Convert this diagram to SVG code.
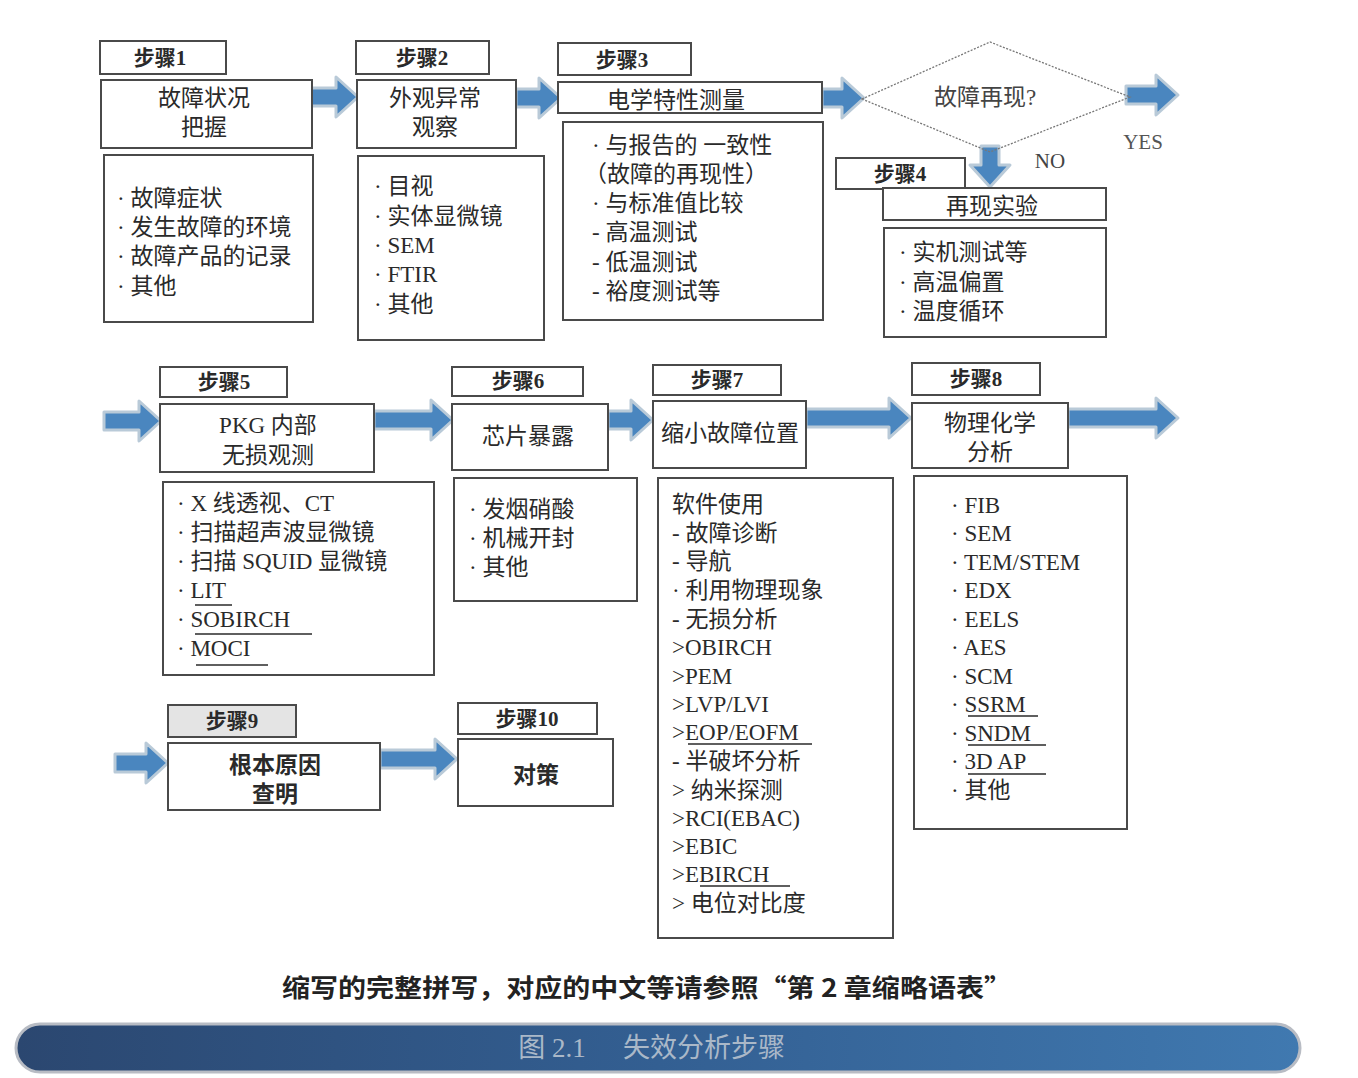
<svg xmlns="http://www.w3.org/2000/svg" width="1358" height="1078" viewBox="0 0 1358 1078">
<style>
.bx{fill:#fff;stroke:#4a4a4a;stroke-width:2}
.lb{fill:#fff;stroke:#4a4a4a;stroke-width:2}
.t{font-family:"Liberation Serif","Noto Sans CJK SC",serif;font-size:23px;fill:#2a2a2a;dominant-baseline:central}
.s{font-family:"Liberation Serif","Noto Sans CJK SC",serif;font-size:21px;fill:#2a2a2a;dominant-baseline:central;text-anchor:middle;font-weight:bold}
.c{text-anchor:middle}
.arr{fill:#4a86bf;stroke:#b9cad8;stroke-width:3;stroke-linejoin:round}
.ul{stroke:#2a2a2a;stroke-width:1.6}
.bt{font-family:"Liberation Serif","Noto Sans CJK SC",serif;font-size:27px;fill:#aab8c8;dominant-baseline:central;text-anchor:middle}
</style>
<defs>
<linearGradient id="bn" x1="0" y1="0" x2="1" y2="0">
<stop offset="0" stop-color="#2b4770"/>
<stop offset="0.5" stop-color="#335f92"/>
<stop offset="1" stop-color="#4079b0"/>
</linearGradient>
</defs>
<rect width="1358" height="1078" fill="#ffffff"/>

<g id="connectors">
<path class="arr" d="M310 88H336V77L358 97L336 117V106H310Z"/>
<path class="arr" d="M516 89H539V78L561 98L539 118V107H516Z"/>
<path class="arr" d="M822 89H842V78L864 98L842 118V107H822Z"/>
<path class="arr" d="M1126 86H1156V75L1178 95L1156 115V104H1126Z"/>
<path class="arr" d="M981 146V165H970L990 187L1010 165H999V146Z"/>
<path class="arr" d="M104 412H139V401L161 421L139 441V430H104Z"/>
<path class="arr" d="M374 411H431V400L453 420L431 440V429H374Z"/>
<path class="arr" d="M608 411H631V400L653 420L631 440V429H608Z"/>
<path class="arr" d="M806 409H889V398L911 418L889 438V427H806Z"/>
<path class="arr" d="M1068 409H1156V398L1178 418L1156 438V427H1068Z"/>
<path class="arr" d="M115 754H146V743L168 763L146 783V772H115Z"/>
<path class="arr" d="M380 750H435V739L457 759L435 779V768H380Z"/>
<text class="t" x="1143" y="142" style="font-size:21px;fill:#555" text-anchor="middle">YES</text>
<text class="t" x="1050" y="161" style="font-size:21px;fill:#444" text-anchor="middle">NO</text>
</g>

<g id="step1">
<rect class="lb" x="100" y="41" width="126" height="33"/>
<text class="s" x="160" y="58">步骤1</text>
<rect class="bx" x="101" y="80" width="211" height="68"/>
<text class="t c" x="204" y="98">故障状况</text>
<text class="t c" x="204" y="127">把握</text>
<rect class="bx" x="104" y="155" width="209" height="167"/>
<text class="t" x="117" y="198">· 故障症状</text>
<text class="t" x="117" y="227">· 发生故障的环境</text>
<text class="t" x="117" y="256">· 故障产品的记录</text>
<text class="t" x="117" y="286">· 其他</text>
</g>

<g id="step2">
<rect class="lb" x="356" y="41" width="133" height="33"/>
<text class="s" x="422" y="58">步骤2</text>
<rect class="bx" x="357" y="80" width="159" height="68"/>
<text class="t c" x="435" y="98">外观异常</text>
<text class="t c" x="435" y="127">观察</text>
<rect class="bx" x="358" y="156" width="186" height="184"/>
<text class="t" x="374" y="186">· 目视</text>
<text class="t" x="374" y="216">· 实体显微镜</text>
<text class="t" x="374" y="245">· SEM</text>
<text class="t" x="374" y="274">· FTIR</text>
<text class="t" x="374" y="304">· 其他</text>
</g>

<g id="step3">
<rect class="lb" x="558" y="43" width="133" height="32"/>
<text class="s" x="622" y="60">步骤3</text>
<rect class="bx" x="558" y="82" width="264" height="31"/>
<text class="t c" x="676" y="100">电学特性测量</text>
<rect class="bx" x="563" y="122" width="260" height="198"/>
<text class="t" x="592" y="145">· 与报告的 一致性</text>
<text class="t" x="584" y="174">（故障的再现性）</text>
<text class="t" x="592" y="203">· 与标准值比较</text>
<text class="t" x="592" y="232">- 高温测试</text>
<text class="t" x="592" y="262">- 低温测试</text>
<text class="t" x="592" y="291">- 裕度测试等</text>
</g>

<g id="decision">
<path d="M862 99L990 42L1130 97L990 152Z" fill="none" stroke="#777" stroke-width="1.3" stroke-dasharray="2 1.5"/>
<text class="t c" x="985" y="97" style="fill:#444">故障再现?</text>
</g>

<g id="step4">
<rect class="lb" x="836" y="158" width="129" height="31"/>
<text class="s" x="900" y="174">步骤4</text>
<rect class="bx" x="883" y="188" width="223" height="32"/>
<text class="t c" x="992" y="206">再现实验</text>
<rect class="bx" x="884" y="228" width="222" height="109"/>
<text class="t" x="899" y="252">· 实机测试等</text>
<text class="t" x="899" y="282">· 高温偏置</text>
<text class="t" x="899" y="311">· 温度循环</text>
</g>

<g id="step5">
<rect class="lb" x="160" y="367" width="127" height="30"/>
<text class="s" x="224" y="382">步骤5</text>
<rect class="bx" x="160" y="404" width="214" height="68"/>
<text class="t c" x="268" y="425">PKG 内部</text>
<text class="t c" x="268" y="455">无损观测</text>
<rect class="bx" x="163" y="482" width="271" height="193"/>
<text class="t" x="177" y="503">· X 线透视、CT</text>
<text class="t" x="177" y="532">· 扫描超声波显微镜</text>
<text class="t" x="177" y="561">· 扫描 SQUID 显微镜</text>
<text class="t" x="177" y="590">· LIT</text>
<text class="t" x="177" y="619">· SOBIRCH</text>
<text class="t" x="177" y="648">· MOCI</text>
<line class="ul" x1="195" y1="605" x2="232" y2="605"/>
<line class="ul" x1="195" y1="634" x2="312" y2="634"/>
<line class="ul" x1="196" y1="665" x2="268" y2="665"/>
</g>

<g id="step6">
<rect class="lb" x="452" y="367" width="131" height="29"/>
<text class="s" x="518" y="381">步骤6</text>
<rect class="bx" x="452" y="404" width="156" height="66"/>
<text class="t c" x="528" y="436">芯片暴露</text>
<rect class="bx" x="454" y="478" width="183" height="123"/>
<text class="t" x="469" y="509">· 发烟硝酸</text>
<text class="t" x="469" y="538">· 机械开封</text>
<text class="t" x="469" y="567">· 其他</text>
</g>

<g id="step7">
<rect class="lb" x="653" y="365" width="128" height="30"/>
<text class="s" x="717" y="380">步骤7</text>
<rect class="bx" x="653" y="401" width="153" height="67"/>
<text class="t c" x="730" y="433">缩小故障位置</text>
<rect class="bx" x="658" y="478" width="235" height="460"/>
<text class="t" x="672" y="504">软件使用</text>
<text class="t" x="672" y="533">- 故障诊断</text>
<text class="t" x="672" y="561">- 导航</text>
<text class="t" x="672" y="590">· 利用物理现象</text>
<text class="t" x="672" y="619">- 无损分析</text>
<text class="t" x="672" y="647">&gt;OBIRCH</text>
<text class="t" x="672" y="676">&gt;PEM</text>
<text class="t" x="672" y="704">&gt;LVP/LVI</text>
<text class="t" x="672" y="732">&gt;EOP/EOFM</text>
<text class="t" x="672" y="761">- 半破坏分析</text>
<text class="t" x="672" y="790">&gt; 纳米探测</text>
<text class="t" x="672" y="818">&gt;RCI(EBAC)</text>
<text class="t" x="672" y="846">&gt;EBIC</text>
<text class="t" x="672" y="874">&gt;EBIRCH</text>
<text class="t" x="672" y="903">&gt; 电位对比度</text>
<line class="ul" x1="688" y1="744" x2="812" y2="744"/>
<line class="ul" x1="700" y1="886" x2="790" y2="886"/>
</g>

<g id="step8">
<rect class="lb" x="912" y="363" width="128" height="32"/>
<text class="s" x="976" y="379">步骤8</text>
<rect class="bx" x="912" y="403" width="156" height="65"/>
<text class="t c" x="990" y="423">物理化学</text>
<text class="t c" x="990" y="452">分析</text>
<rect class="bx" x="914" y="476" width="213" height="353"/>
<text class="t" x="951" y="505">· FIB</text>
<text class="t" x="951" y="533">· SEM</text>
<text class="t" x="951" y="562">· TEM/STEM</text>
<text class="t" x="951" y="590">· EDX</text>
<text class="t" x="951" y="619">· EELS</text>
<text class="t" x="951" y="647">· AES</text>
<text class="t" x="951" y="676">· SCM</text>
<text class="t" x="951" y="704">· SSRM</text>
<text class="t" x="951" y="733">· SNDM</text>
<text class="t" x="951" y="761">· 3D AP</text>
<text class="t" x="951" y="790">· 其他</text>
<line class="ul" x1="968" y1="716" x2="1038" y2="716"/>
<line class="ul" x1="968" y1="745" x2="1046" y2="745"/>
<line class="ul" x1="968" y1="774" x2="1046" y2="774"/>
</g>

<g id="step9">
<rect class="lb" x="168" y="705" width="128" height="32" style="fill:#e4e4e4"/>
<text class="s" x="232" y="721">步骤9</text>
<rect class="bx" x="168" y="743" width="212" height="67"/>
<text class="t c" x="275" y="765" style="font-weight:bold">根本原因</text>
<text class="t c" x="275" y="794" style="font-weight:bold">查明</text>
</g>

<g id="step10">
<rect class="lb" x="458" y="703" width="139" height="31"/>
<text class="s" x="527" y="719">步骤10</text>
<rect class="bx" x="458" y="739" width="155" height="67"/>
<text class="t c" x="536" y="775" style="font-weight:bold">对策</text>
</g>

<g id="caption">
<text x="647" y="986" text-anchor="middle" dominant-baseline="central" textLength="730" lengthAdjust="spacingAndGlyphs" style="font-family:'Noto Sans CJK SC',sans-serif;font-size:25px;font-weight:bold;fill:#222">缩写的完整拼写，对应的中文等请参照“第 2 章缩略语表”</text>
</g>

<g id="banner">
<rect x="16" y="1024" width="1284" height="48" rx="24" fill="url(#bn)" stroke="#b8bcc4" stroke-width="3"/>
<text class="bt" x="552" y="1048">图 2.1</text>
<text class="bt" x="704" y="1048">失效分析步骤</text>
</g>
</svg>
